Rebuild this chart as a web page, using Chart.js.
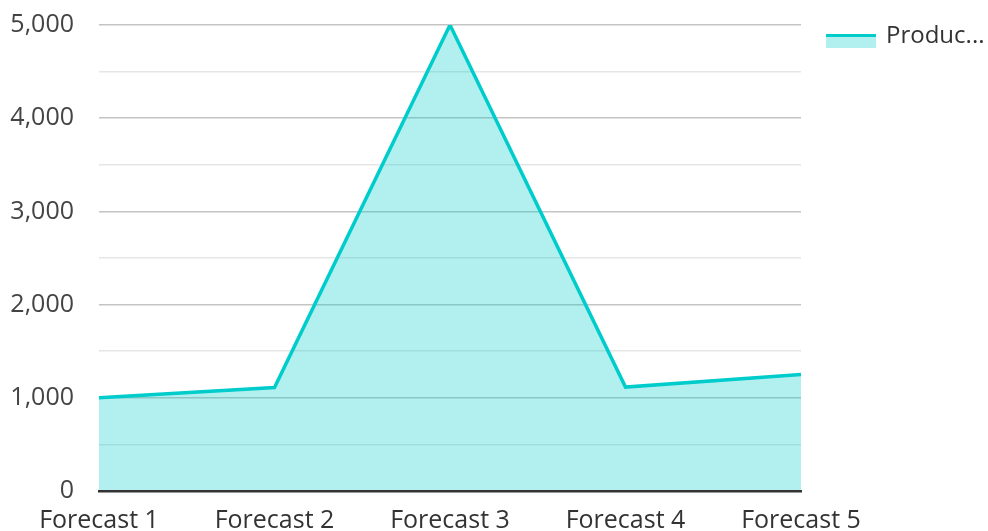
<!DOCTYPE html>
<html>
<head>
<meta charset="utf-8">
<style>
  html, body { margin: 0; padding: 0; background: #fff; }
  #wrap { width: 988px; height: 531px; position: relative; }
</style>
<script src="https://cdn.jsdelivr.net/npm/chart.js@4/dist/chart.umd.min.js"></script>
</head>
<body>
<div id="wrap"><canvas id="chart" width="988" height="531"></canvas></div>
<script>
const categories = ['Forecast 1', 'Forecast 2', 'Forecast 3', 'Forecast 4', 'Forecast 5'];
const productValues = [1000, 1110, 5000, 1115, 1250];
const seriesName = 'Produc...';

const LINE = '#00cccc';
const FILL = 'rgba(0, 204, 204, 0.30)';
const FONT = "'Open Sans', 'Noto Sans', sans-serif";

// Legend drawn on the canvas: a short stroke over a filled swatch, then the name
const sideLegend = {
  id: 'sideLegend',
  afterDraw(chart) {
    const ctx = chart.ctx;
    const x = chart.chartArea.right + 25, y = 34, w = 50, h = 14;
    ctx.save();
    ctx.fillStyle = FILL;
    ctx.fillRect(x, y, w, h);
    ctx.strokeStyle = LINE;
    ctx.lineWidth = 3;
    ctx.beginPath();
    ctx.moveTo(x, y + 1.5);
    ctx.lineTo(x + w, y + 1.5);
    ctx.stroke();
    ctx.fillStyle = '#333';
    ctx.font = '24px ' + FONT;
    ctx.textBaseline = 'middle';
    ctx.fillText(seriesName, x + w + 10, y + 2);
    ctx.restore();
  }
};

new Chart(document.getElementById('chart'), {
  type: 'line',
  data: {
    labels: categories,
    datasets: [{
      label: seriesName,
      data: productValues,
      borderColor: LINE,
      backgroundColor: FILL,
      borderWidth: 3.5,
      fill: 'origin',
      tension: 0,
      pointRadius: 0,
      pointHoverRadius: 0
    }]
  },
  options: {
    responsive: false,
    animation: false,
    layout: { padding: { top: 25, right: 187, bottom: 0, left: 0 } },
    plugins: { legend: { display: false }, tooltip: { enabled: false } },
    scales: {
      x: {
        offset: false,
        afterFit(scale) { scale.height = 40; scale.paddingLeft = 0; scale.paddingRight = 0; },
        grid: { display: false },
        border: { display: true, color: '#333', width: 2.5, z: 1 },
        ticks: { color: '#333', font: { family: FONT, size: 25 }, padding: 7, maxRotation: 0, autoSkip: false }
      },
      y: {
        min: 0,
        max: 5000,
        afterFit(scale) { scale.width = 99; scale.paddingTop = 0; scale.paddingBottom = 0; },
        border: { display: false },
        grid: {
          drawTicks: false,
          color(ctx) {
            const v = ctx.tick.value;
            if (v === 0) return 'rgba(0,0,0,0)';
            return v % 1000 === 0 ? '#c4c4c4' : '#e6e6e6';
          },
          lineWidth: 1.5
        },
        ticks: {
          stepSize: 500,
          color: '#444',
          padding: 25,
          font: { family: FONT, size: 25 },
          callback(v) { return v % 1000 === 0 ? v.toLocaleString('en-US') : ''; }
        }
      }
    }
  },
  plugins: [sideLegend]
});
</script>
</body>
</html>
